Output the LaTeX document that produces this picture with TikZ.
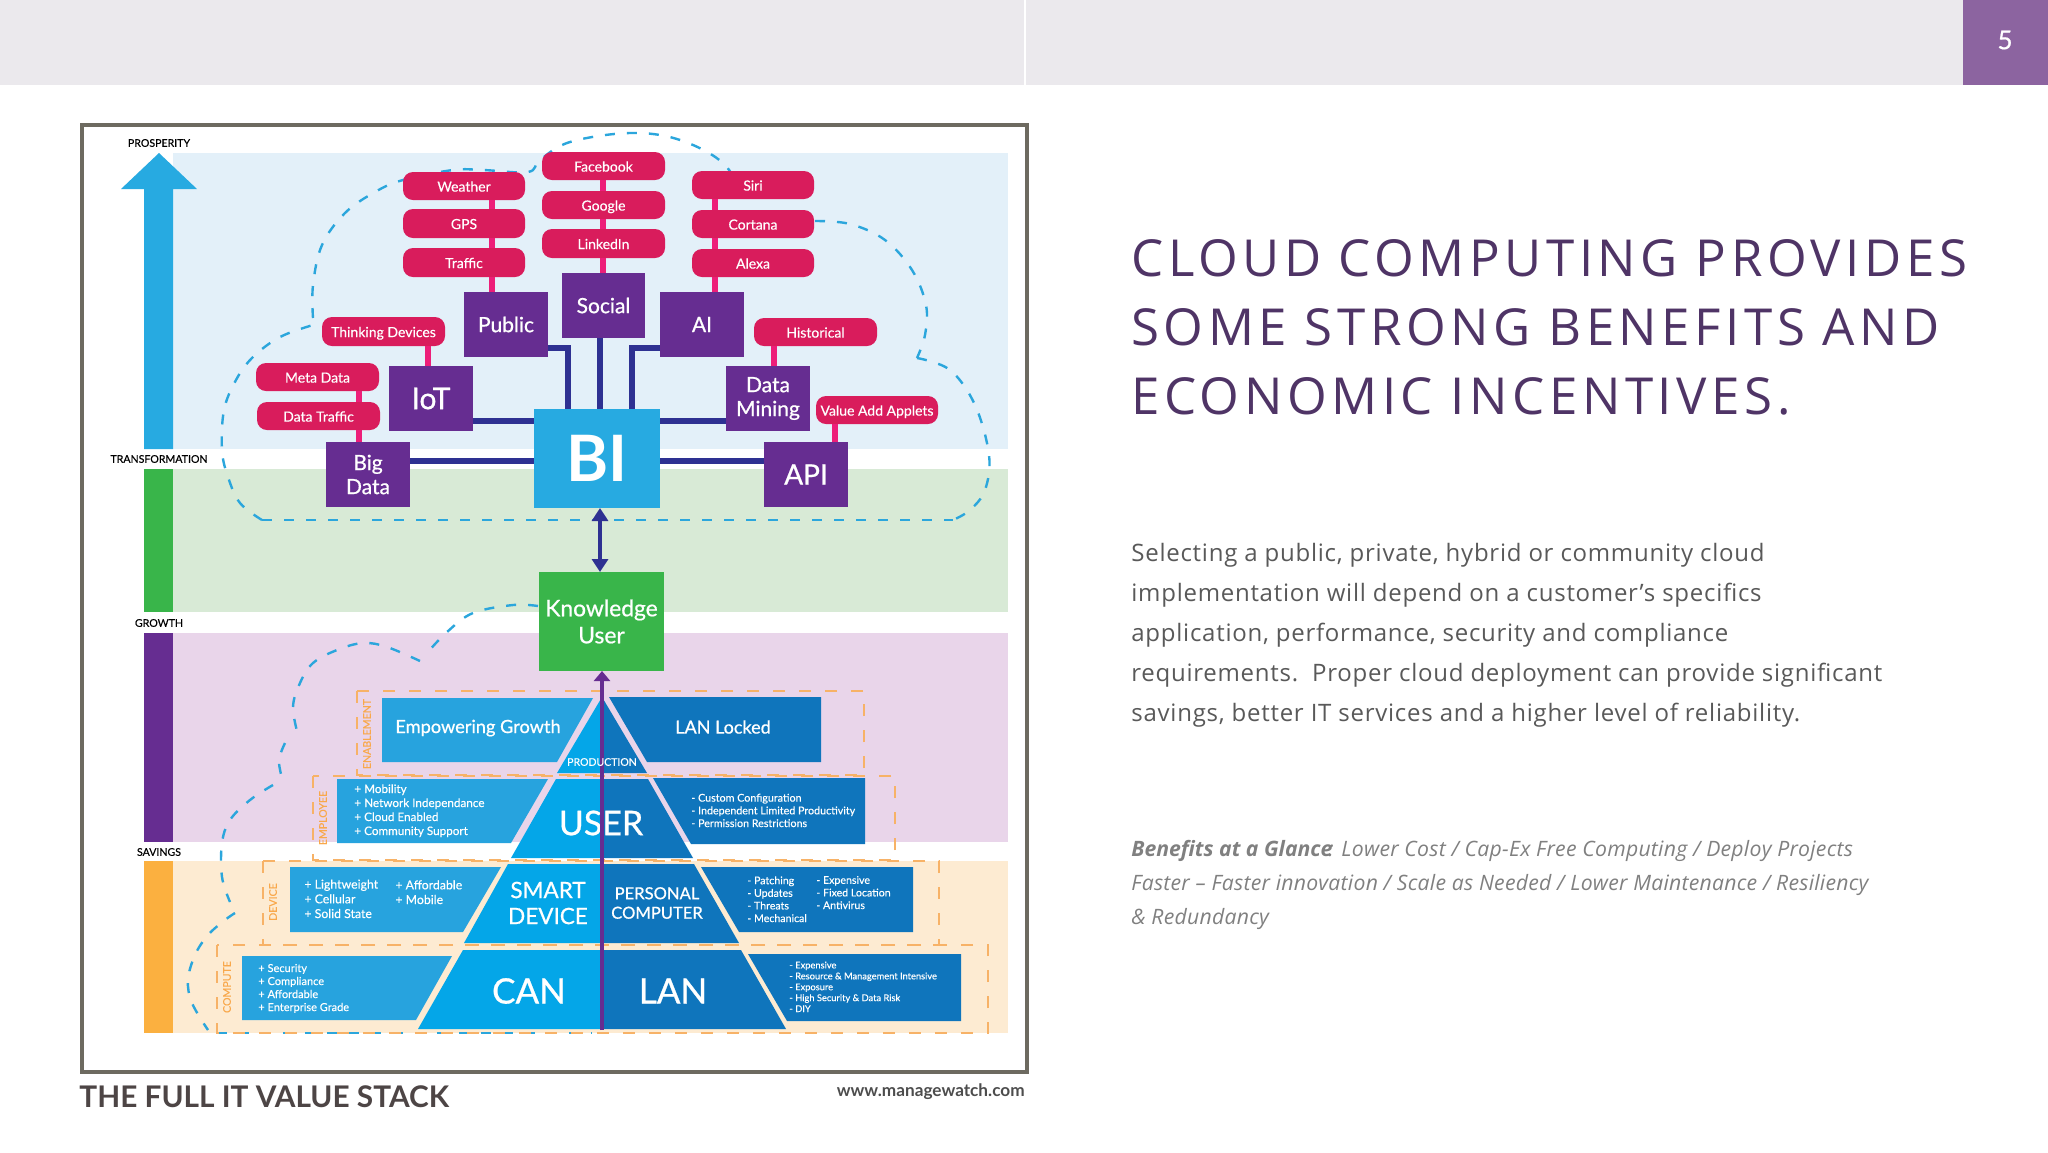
\documentclass[tikz,border=0pt]{standalone}
\usepackage{fontspec}
\usetikzlibrary{arrows.meta,calc}
\setmainfont{Lato}
\newfontfamily\lm[FakeBold=0.3]{Lato}
\newfontfamily\lmb[FakeBold=0.7]{Lato}
\newfontfamily\titlefont[LetterSpace=8.9]{Open Sans}
\newfontfamily\bodyfont[LetterSpace=3.1]{Open Sans}
\newfontfamily\benefitfont[LetterSpace=1.2]{Open Sans}
\definecolor{bandblue}{HTML}{E3F0F9}
\definecolor{bandgreen}{HTML}{D8EAD6}
\definecolor{bandpurple}{HTML}{E9D5EA}
\definecolor{bandorange}{HTML}{FDEBD2}
\definecolor{barblue}{HTML}{27AAE1}
\definecolor{bargreen}{HTML}{39B54A}
\definecolor{barpurple}{HTML}{662D91}
\definecolor{barorange}{HTML}{FBB040}
\definecolor{pillred}{HTML}{D91C5C}
\definecolor{pinkline}{HTML}{ED1E79}
\definecolor{navy}{HTML}{2E3192}
\definecolor{pyrlight}{HTML}{04A6E8}
\definecolor{pyrdark}{HTML}{0F75BC}
\definecolor{sidelight}{HTML}{27A3DE}
\definecolor{dashorange}{HTML}{F7B267}
\definecolor{labelorange}{HTML}{F9A84B}
\definecolor{cloudblue}{HTML}{2BA6DC}
\definecolor{framegray}{HTML}{6D6A60}
\definecolor{titlepurple}{HTML}{4F3466}
\newcommand\fs[2]{\fontsize{\dimexpr#1pt/2\relax}{\dimexpr#2pt/2\relax}\selectfont}
\newcommand\fl[2]{\lm\fs{#1}{#2}}
\newcommand\fb[2]{\lmb\fs{#1}{#2}}
\newcommand\rbox[7]{%
  \pgfmathsetmacro\cxx{(#3+#5)/2}\pgfmathsetmacro\cyy{(#4+#6)/2}%
  \pgfmathsetmacro\wdd{(#5-#3)*0.5}\pgfmathsetmacro\htt{(#6-#4)*0.5}%
  \node[#1,minimum width=\wdd pt,minimum height=\htt pt] (#2) at (\cxx,\cyy) {#7};}
\tikzset{
  x=0.5pt,y=-0.5pt,
  boxbase/.style={inner sep=0pt,outer sep=0pt,text=white,align=center},
  pill/.style={boxbase,fill=pillred,rounded corners=5pt,font=\fl{14}{16},text height=6.4pt,text depth=0.8pt},
  purplebox/.style={boxbase,fill=barpurple,font=\fb{21}{24}},
  pinkconn/.style={pinkline,line width=3pt},
  navyconn/.style={navy,line width=3pt},
  cloud/.style={cloudblue,line width=1.2pt,dash pattern=on 5pt off 6pt},
  stackdash/.style={dashorange,line width=1pt,dash pattern=on 6pt off 7pt},
  axislabel/.style={inner sep=0pt,text=black,font=\fl{10.6}{13}},
  sidelabel/.style={inner sep=0pt,text=labelorange,font=\fl{10.6}{13},rotate=90},
  listtext/.style={inner sep=0pt,anchor=base west,align=left,text=white},
  slicetext/.style={inner sep=0pt,text=white,align=center},
}
\begin{document}
\begin{tikzpicture}
\useasboundingbox (0,0) rectangle (2048,1152);
% banner
\fill[fill=white] (0,0) rectangle (2048,1152);
\fill[fill={rgb,255:red,235;green,233;blue,237}] (0,0) rectangle (1024,85);
\fill[fill={rgb,255:red,235;green,233;blue,237}] (1026,0) rectangle (1963,85);
\fill[fill={rgb,255:red,140;green,100;blue,160}] (1963,0) rectangle (2048,85);
\node[inner sep=0pt,text=white,font=\fb{26}{28}] (pagenum) at (2005,40) {5};
% bands
\fill[bandblue] (173,153) rectangle (1008,449);
\fill[bandgreen] (173,469) rectangle (1008,612);
\fill[bandpurple] (173,633) rectangle (1008,842);
\fill[bandorange] (173,861) rectangle (1008,1033);
% bars
\fill[barblue] (144,449) -- (144,189) -- (121,189) -- (159,153) -- (197,189) -- (173,189) -- (173,449) -- cycle;
\fill[bargreen] (144,469) rectangle (173,612);
\fill[barpurple] (144,633) rectangle (173,842);
\fill[barorange] (144,861) rectangle (173,1033);
\node[axislabel] (lprosperity) at (159,143) {PROSPERITY};
\node[axislabel] (ltransformation) at (159,459) {TRANSFORMATION};
\node[axislabel] (lgrowth) at (159,623) {GROWTH};
\node[axislabel] (lsavings) at (159,852) {SAVINGS};
% frame
\draw[framegray,line width=2pt] (82,125) rectangle (1027,1072);
% upper cloud
\draw[cloud] plot[smooth,tension=0.6] coordinates {(262,520) (240,503) (228,477) (222,450) (224,410) (236,380) (253,357) (280,337) (313,325)};
\draw[cloud] plot[smooth,tension=0.6] coordinates {(313,318) (313,285) (322,245) (345,213) (375,192) (403,180) (453,170) (483,170) (528,172) (540,160) (570,142) (630,133) (680,140) (725,165) (745,205)};
\draw[cloud] plot[smooth,tension=0.6] coordinates {(815,221) (850,224) (885,240) (912,270) (926,305) (925,335) (917,358)};
\draw[cloud] plot[smooth,tension=0.6] coordinates {(917,358) (950,370) (975,405) (989,455) (985,490) (970,510) (953,520)};
\draw[cloud] (262,520) -- (953,520);
% lower cloud
\draw[cloud] plot[smooth,tension=0.6] coordinates {(538,606) (513,605) (473,613) (447,632) (427,653)};
\draw[cloud] plot[smooth,tension=0.6] coordinates {(420,661) (387,647) (363,643) (337,650) (313,663) (300,683) (293,707) (298,735)};
\draw[cloud] plot[smooth,tension=0.6] coordinates {(285,743) (279,760) (282,778)};
\draw[cloud] plot[smooth,tension=0.6] coordinates {(273,785) (250,800) (230,820) (222,843) (222,877) (230,902)};
\draw[cloud] plot[smooth,tension=0.6] coordinates {(235,913) (225,920) (208,935) (195,955) (188,980) (192,1003) (208,1030)};
\draw[cloud] (217,1033) -- (592,1033);
% dashed stack rectangles
\draw[stackdash] (357,691) rectangle (864,775);
\draw[stackdash] (313,776) rectangle (895,860);
\draw[stackdash] (263,861) rectangle (939,945);
\draw[stackdash] (217,945) rectangle (988,1033);
\node[sidelabel] (lenable) at (367,734) {ENABLEMENT};
\node[sidelabel] (lemployee) at (323,818) {EMPLOYEE};
\node[sidelabel] (ldevice) at (273,902) {DEVICE};
\node[sidelabel] (lcompute) at (227,987) {COMPUTE};
% side boxes
\fill[sidelight] (382,698) -- (593,698) -- (557,762) -- (382,762) -- cycle;
\fill[pyrdark] (609,697) -- (821,697) -- (821,762) -- (647,762) -- cycle;
\fill[sidelight] (337,779) -- (548,779) -- (511,843) -- (337,843) -- cycle;
\fill[pyrdark] (653,778) -- (865,778) -- (865,844) -- (691,844) -- cycle;
\fill[sidelight] (290,867) -- (501,867) -- (463,932) -- (290,932) -- cycle;
\fill[pyrdark] (701,867) -- (913,867) -- (913,932) -- (739,932) -- cycle;
\fill[sidelight] (242,956) -- (452,956) -- (416,1020) -- (242,1020) -- cycle;
\fill[pyrdark] (748,954) -- (961,954) -- (961,1021) -- (787,1021) -- cycle;
% pyramid
\fill[pyrlight] (602,697) -- (557,773) -- (602,773) -- cycle;
\fill[pyrdark] (602,697) -- (647,773) -- (602,773) -- cycle;
\fill[pyrlight] (556,779) -- (511,858) -- (602,858) -- (602,779) -- cycle;
\fill[pyrdark] (648,779) -- (693,858) -- (602,858) -- (602,779) -- cycle;
\fill[pyrlight] (508,864) -- (464,943) -- (602,943) -- (602,864) -- cycle;
\fill[pyrdark] (694,864) -- (739,943) -- (602,943) -- (602,864) -- cycle;
\fill[pyrlight] (463,950) -- (418,1029) -- (602,1029) -- (602,950) -- cycle;
\fill[pyrdark] (741,950) -- (786,1029) -- (602,1029) -- (602,950) -- cycle;
% slice and box texts
\node[slicetext,font=\fb{18.2}{24}] (tempower) at (478,728) {Empowering Growth};
\node[slicetext,font=\fb{18}{24}] (tlanlocked) at (723,727) {LAN Locked};
\node[slicetext,font=\fb{34}{38}] (tuser) at (601,823) {USER};
\node[slicetext,font=\fb{22.5}{26}] (tsmart) at (548,903) {SMART\\DEVICE};
\node[slicetext,font=\fb{16.6}{19.5}] (tpersonal) at (657,903) {PERSONAL\\COMPUTER};
\node[slicetext,font=\fb{35}{38}] (tcan) at (529,991) {CAN};
\node[slicetext,font=\fb{35}{38}] (tlan) at (673,991) {LAN};
\node[listtext,font=\fl{11.7}{14}] (lemp) at (354,835) {+ Mobility\\+ Network Independance\\+ Cloud Enabled\\+ Community Support};
\node[listtext,font=\fl{10.7}{12.7}] (remp) at (691,827) {- Custom Configuration\\- Independent Limited Productivity\\- Permission Restrictions};
\node[listtext,font=\fl{12.3}{14.7}] (ldev) at (304,918) {+ Lightweight\\+ Cellular\\+ Solid State};
\node[listtext,font=\fl{12.3}{14.7}] (ldevb) at (395,904) {+ Affordable\\+ Mobile};
\node[listtext,font=\fl{11}{13}] (lcomp) at (258,1011) {+ Security\\+ Compliance\\+ Affordable\\+ Enterprise Grade};
\node[listtext,font=\fl{10.6}{12.6}] (rdev) at (747,922) {- Patching\\- Updates\\- Threats\\- Mechanical};
\node[listtext,font=\fl{10.6}{12.6}] (rdevb) at (816,909) {- Expensive\\- Fixed Location\\- Antivirus};
\node[listtext,font=\fl{9.3}{10.9}] (rcomp) at (789,1012) {- Expensive\\- Resource \& Management Intensive\\- Exposure\\- High Security \& Data Risk\\- DIY};
% purple boxes
\rbox{purplebox}{public}{464}{292}{548}{357}{Public}
\rbox{purplebox}{social}{562}{273}{645}{338}{Social}
\rbox{purplebox}{ai}{660}{292}{744}{357}{AI}
\rbox{purplebox,font=\fb{30}{32}}{iot}{389}{366}{473}{431}{IoT}
\rbox{purplebox}{bigdata}{326}{442}{410}{507}{Big\\Data}
\rbox{purplebox}{datamining}{726}{366}{810}{431}{Data\\Mining}
\rbox{purplebox,font=\fb{28}{30}}{api}{764}{442}{848}{507}{API}
\rbox{boxbase,fill=barblue,font=\normalfont\bfseries\fs{64}{66}}{bi}{534}{409}{660}{508}{BI}
\rbox{boxbase,fill=bargreen,font=\fb{22.8}{27}}{ku}{539}{572}{664}{671}{Knowledge\\User}
% pills
\rbox{pill}{weather}{403}{172}{525}{200}{Weather}
\rbox{pill}{gps}{403}{209}{525}{238}{GPS}
\rbox{pill}{traffic}{403}{248}{525}{277}{Traffic}
\rbox{pill}{facebook}{542}{152}{665}{180}{Facebook}
\rbox{pill}{google}{542}{191}{665}{219}{Google}
\rbox{pill}{linkedin}{542}{229}{665}{258}{LinkedIn}
\rbox{pill}{siri}{692}{171}{814}{199}{Siri}
\rbox{pill}{cortana}{692}{210}{814}{238}{Cortana}
\rbox{pill}{alexa}{692}{249}{814}{277}{Alexa}
\rbox{pill}{thinking}{322}{317}{445}{346}{Thinking Devices}
\rbox{pill}{metadata}{256}{363}{379}{391}{Meta Data}
\rbox{pill}{datatraffic}{257}{402}{380}{430}{Data Traffic}
\rbox{pill}{historical}{754}{318}{877}{346}{Historical}
\rbox{pill}{valueadd}{816}{396}{938}{424}{Value Add Applets}
% connector x positions
\coordinate (xpub) at (492,0);
\coordinate (xsoc) at (603,0);
\coordinate (xai) at (715,0);
\coordinate (xiot) at (428,0);
\coordinate (xbig) at (359,0);
\coordinate (xdm) at (774,0);
\coordinate (xapi) at (835,0);
\coordinate (ybi) at (0,421);
\coordinate (ybig) at (0,461);
\coordinate (ypa) at (0,348);
\coordinate (xpb) at (568,0);
\coordinate (xsb) at (600,0);
\coordinate (xab) at (632,0);
\coordinate (xarr) at (600,0);
\coordinate (xstack) at (602,0);
\coordinate (stackfoot) at (602,1030);
% pink connectors
\draw[pinkconn] (weather.south -| xpub) -- (gps.north -| xpub);
\draw[pinkconn] (gps.south -| xpub) -- (traffic.north -| xpub);
\draw[pinkconn] (traffic.south -| xpub) -- (public.north -| xpub);
\draw[pinkconn] (facebook.south -| xsoc) -- (google.north -| xsoc);
\draw[pinkconn] (google.south -| xsoc) -- (linkedin.north -| xsoc);
\draw[pinkconn] (linkedin.south -| xsoc) -- (social.north -| xsoc);
\draw[pinkconn] (siri.south -| xai) -- (cortana.north -| xai);
\draw[pinkconn] (cortana.south -| xai) -- (alexa.north -| xai);
\draw[pinkconn] (alexa.south -| xai) -- (ai.north -| xai);
\draw[pinkconn] (thinking.south -| xiot) -- (iot.north -| xiot);
\draw[pinkconn] (metadata.south -| xbig) -- (datatraffic.north -| xbig);
\draw[pinkconn] (datatraffic.south -| xbig) -- (bigdata.north -| xbig);
\draw[pinkconn] (historical.south -| xdm) -- (datamining.north -| xdm);
\draw[pinkconn] (valueadd.south -| xapi) -- (api.north -| xapi);
% navy connectors
\draw[navyconn] (iot.east |- ybi) -- (bi.west |- ybi);
\draw[navyconn] (bigdata.east |- ybig) -- (bi.west |- ybig);
\draw[navyconn] (bi.east |- ybi) -- (datamining.west |- ybi);
\draw[navyconn] (bi.east |- ybig) -- (api.west |- ybig);
\draw[navyconn] (public.east |- ypa) -| (bi.north -| xpb);
\draw[navyconn] (social.south -| xsb) -- (bi.north -| xsb);
\draw[navyconn] (ai.west |- ypa) -| (bi.north -| xab);
\draw[navy,line width=2pt,{Triangle[width=8pt,length=6.5pt]}-{Triangle[width=8pt,length=6.5pt]}] (bi.south -| xarr) -- (ku.north -| xarr);
\draw[barpurple,line width=2pt,-{Triangle[width=8pt,length=5pt]}] (stackfoot) -- (ku.south -| xstack);
\node[slicetext,font=\fl{10.5}{13}] (tproduction) at (602,762) {PRODUCTION};
% footer
\node[inner sep=0pt,anchor=base west,text={rgb,255:red,77;green,69;blue,69},font=\bfseries\fs{29.8}{31}] (footer) at (79,1107) {THE FULL IT VALUE STACK};
\node[inner sep=0pt,anchor=base east,text={rgb,255:red,77;green,77;blue,77},font=\bfseries\fs{17.2}{19}] (site) at (1025,1096) {www.managewatch.com};
% right column
\node[inner sep=0pt,anchor=base west,align=left,text=titlepurple,font=\titlefont\fs{51}{69}] (title) at (1131,414) {CLOUD COMPUTING PROVIDES\\SOME STRONG BENEFITS AND\\ECONOMIC INCENTIVES.};
\node[inner sep=0pt,anchor=base west,align=left,text={rgb,255:red,89;green,89;blue,89},font=\bodyfont\fs{24}{39.8}] (body) at (1131,721) {Selecting a public, private, hybrid or community cloud\\implementation will depend on a customer’s specifics\\application, performance, security and compliance\\requirements.\ \ Proper cloud deployment can provide significant\\savings, better IT services and a higher level of reliability.};
\node[inner sep=0pt,anchor=base west,align=left,text={rgb,255:red,128;green,128;blue,128},font=\benefitfont\itshape\fs{21.2}{34}] (benefits) at (1131,924) {{\addfontfeature{LetterSpace=0}\bfseries Benefits at a Glance}\kern-2pt: Lower Cost / Cap-Ex Free Computing / Deploy Projects\\Faster – Faster innovation / Scale as Needed / Lower Maintenance / Resiliency\\\& Redundancy};
\end{tikzpicture}
\end{document}
